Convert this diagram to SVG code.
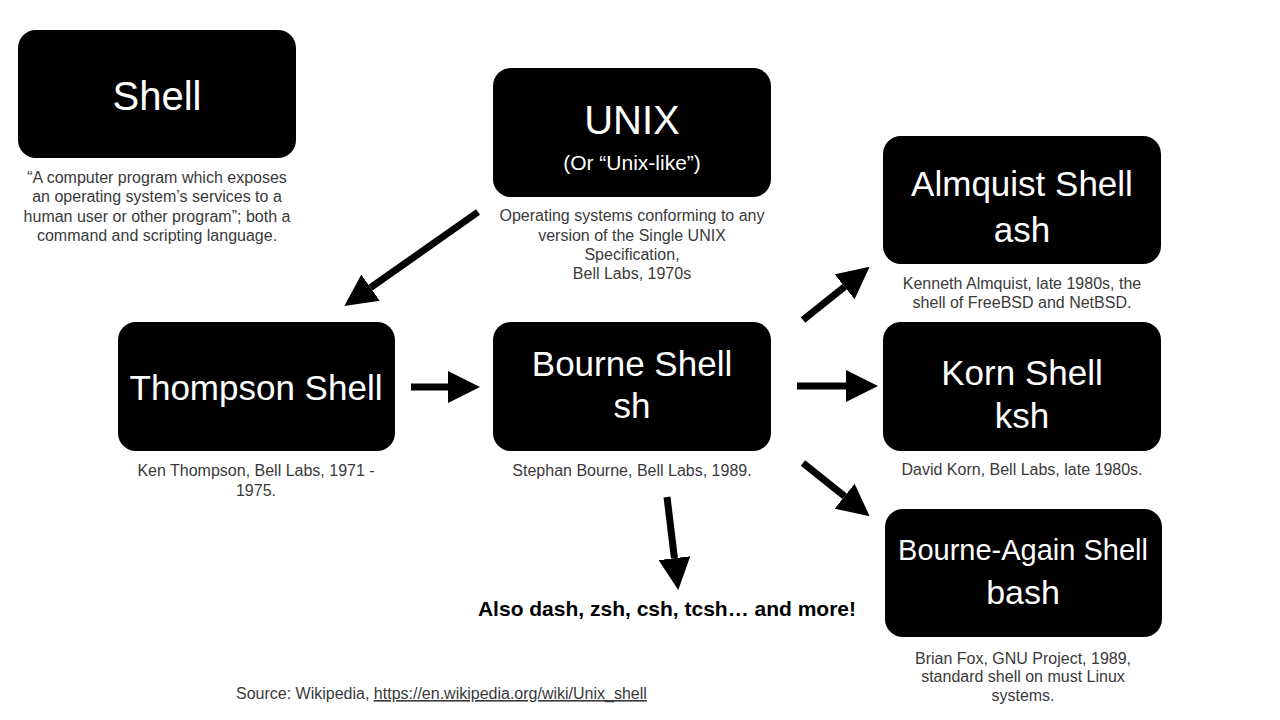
<svg xmlns="http://www.w3.org/2000/svg" width="1280" height="720" viewBox="0 0 1280 720">
<defs>
<style>
.box{fill:#000}
.t{fill:#fff;font-family:"Liberation Sans",Arial,sans-serif;text-anchor:middle}
.c{fill:#3a3a3a;font-family:"Liberation Sans",Arial,sans-serif;font-size:16px;text-anchor:middle}
.a{stroke:#000;stroke-width:7;fill:none;marker-end:url(#h)}
</style>
<marker id="h" markerUnits="userSpaceOnUse" markerWidth="32" markerHeight="32" viewBox="0 0 30 30" refX="0" refY="15" orient="auto">
<path d="M0,0 L30,15 L0,30 Z" fill="#000"/>
</marker>
</defs>
<rect width="1280" height="720" fill="#fff"/>
<g id="connectors">
<line class="a" x1="478" y1="212" x2="370.5" y2="287.7"/>
<line class="a" x1="411" y1="387" x2="448" y2="387"/>
<line class="a" x1="797" y1="386" x2="846" y2="386"/>
<line class="a" x1="803" y1="320" x2="844.6" y2="286.8"/>
<line class="a" x1="803" y1="463" x2="844.6" y2="496.2"/>
<line class="a" x1="667" y1="497" x2="674.4" y2="558.2"/>
</g>
<g id="shell">
<rect class="box" x="18" y="30" width="278" height="128" rx="18"/>
<text class="t" x="157" y="110" font-size="40">Shell</text>
<text class="c" x="157" y="183">“A computer program which exposes</text>
<text class="c" x="157" y="202">an operating system’s services to a</text>
<text class="c" x="157" y="222">human user or other program”; both a</text>
<text class="c" x="157" y="241">command and scripting language.</text>
</g>
<g id="unix">
<rect class="box" x="493" y="68" width="278" height="129" rx="18"/>
<text class="t" x="632" y="134" font-size="40">UNIX</text>
<text class="t" x="632" y="170" font-size="21">(Or “Unix-like”)</text>
<text class="c" x="632" y="221">Operating systems conforming to any</text>
<text class="c" x="632" y="241">version of the Single UNIX</text>
<text class="c" x="632" y="260">Specification,</text>
<text class="c" x="632" y="279">Bell Labs, 1970s</text>
</g>
<g id="almquist">
<rect class="box" x="883" y="136" width="278" height="128" rx="18"/>
<text class="t" x="1022" y="196" font-size="35">Almquist Shell</text>
<text class="t" x="1022" y="242" font-size="35">ash</text>
<text class="c" x="1022" y="289">Kenneth Almquist, late 1980s, the</text>
<text class="c" x="1022" y="308">shell of FreeBSD and NetBSD.</text>
</g>
<g id="thompson">
<rect class="box" x="118" y="322" width="277" height="129" rx="18"/>
<text class="t" x="256" y="400" font-size="35">Thompson Shell</text>
<text class="c" x="256" y="476">Ken Thompson, Bell Labs, 1971 -</text>
<text class="c" x="256" y="496">1975.</text>
</g>
<g id="bourne">
<rect class="box" x="493" y="322" width="278" height="129" rx="18"/>
<text class="t" x="632" y="376" font-size="35">Bourne Shell</text>
<text class="t" x="632" y="418" font-size="35">sh</text>
<text class="c" x="632" y="476">Stephan Bourne, Bell Labs, 1989.</text>
</g>
<g id="korn">
<rect class="box" x="883" y="322" width="278" height="129" rx="18"/>
<text class="t" x="1022" y="385" font-size="35">Korn Shell</text>
<text class="t" x="1022" y="428" font-size="35">ksh</text>
<text class="c" x="1022" y="475">David Korn, Bell Labs, late 1980s.</text>
</g>
<g id="bash">
<rect class="box" x="885" y="509" width="277" height="128" rx="18"/>
<text class="t" x="1023" y="560" font-size="29">Bourne-Again Shell</text>
<text class="t" x="1023" y="604" font-size="34">bash</text>
<text class="c" x="1023" y="664">Brian Fox, GNU Project, 1989,</text>
<text class="c" x="1023" y="682">standard shell on must Linux</text>
<text class="c" x="1023" y="701">systems.</text>
</g>
<g id="more">
<text x="667" y="616" font-family="Liberation Sans,Arial,sans-serif" font-weight="bold" font-size="21" text-anchor="middle" fill="#000">Also dash, zsh, csh, tcsh… and more!</text>
</g>
<g id="source">
<text x="236" y="699" font-family="Liberation Sans,Arial,sans-serif" font-size="16" fill="#3a3a3a">Source: Wikipedia, <tspan text-decoration="underline">https://en.wikipedia.org/wiki/Unix_shell</tspan></text>
</g>
</svg>
